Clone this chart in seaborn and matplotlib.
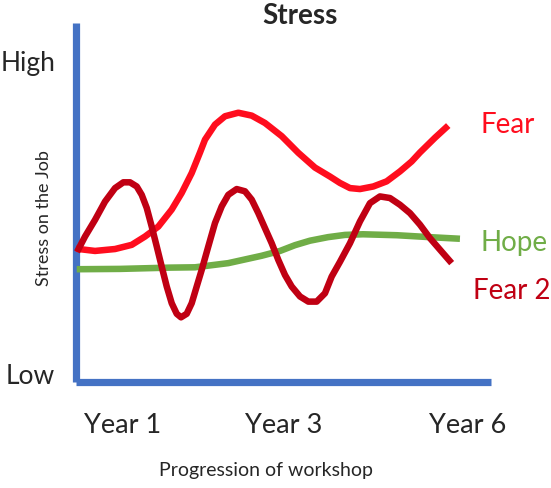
import pandas as pd
import numpy as np

import matplotlib
matplotlib.use("Agg")
import matplotlib.pyplot as plt
import seaborn as sns


# values: x = progress through the workshop (0-100), y = stress (0 = Low, 10 = High)
fear_x = [0, 4.58, 9.40, 13.42, 16.63, 19.83, 23.06, 25.47, 27.88, 29.88, 31.08, 33.49, 35.90,
          39.11, 42.34, 45.54, 49.57, 53.57, 57.59, 61.20, 63.61, 66.02, 68.43, 71.64, 74.87,
          78.07, 80.89, 82.89, 86.51, 89.71]
fear_y = [4.16, 4.09, 4.15, 4.28, 4.54, 4.85, 5.38, 5.90, 6.52, 7.16, 7.56, 8.03, 8.29,
          8.40, 8.31, 8.08, 7.67, 7.15, 6.69, 6.41, 6.21, 6.05, 6.02, 6.10, 6.26,
          6.57, 6.88, 7.16, 7.62, 8.00]

fear2_x = [0.24, 2.17, 4.58, 6.99, 9.40, 11.40, 13.01, 14.63, 15.83, 17.04, 18.24, 19.45, 20.65,
           21.86, 23.06, 24.27, 25.30, 26.67, 27.88, 29.08, 30.29, 31.88, 33.49, 35.11, 36.70,
           38.72, 40.72, 42.34, 43.93, 45.54, 47.16, 48.75, 50.36, 51.98, 53.98, 55.98, 58.00,
           60.00, 61.61, 63.61, 66.02, 68.43, 70.84, 73.25, 75.66, 78.07, 80.48, 82.89, 85.30,
           87.71, 90.53]
fear2_y = [4.06, 4.54, 5.06, 5.63, 6.05, 6.23, 6.23, 6.10, 5.84, 5.43, 4.85, 4.23, 3.60,
           2.98, 2.46, 2.13, 2.02, 2.13, 2.46, 2.98, 3.50, 4.23, 4.96, 5.48, 5.84,
           6.02, 5.95, 5.69, 5.27, 4.80, 4.33, 3.81, 3.34, 2.98, 2.67, 2.51, 2.51,
           2.77, 3.29, 3.75, 4.33, 5.01, 5.58, 5.79, 5.74, 5.53, 5.27, 4.91, 4.49,
           4.13, 3.71]

hope_x = [0.17, 10.60, 22.65, 28.67, 36.70, 44.75, 49.16, 52.77, 56.39, 60.72, 64.82, 69.16,
          77.35, 85.30, 92.53]
hope_y = [3.52, 3.53, 3.57, 3.58, 3.71, 3.94, 4.09, 4.27, 4.41, 4.52, 4.59, 4.61,
          4.58, 4.52, 4.47]

series_names = ["Hope", "Fear", "Fear 2"]
series_colors = {"Fear": "#FF0D1E", "Fear 2": "#C00013", "Hope": "#70AD47"}

year_pos = [11.1, 50.1, 94.5]
year_labels = ["Year 1", "Year 3", "Year 6"]
level_pos = [0.25, 10.0]
level_labels = ["Low", "High"]

# long table for seaborn
df = pd.concat([
    pd.DataFrame({"progress": hope_x, "stress": hope_y, "series": "Hope"}),
    pd.DataFrame({"progress": fear_x, "stress": fear_y, "series": "Fear"}),
    pd.DataFrame({"progress": fear2_x, "stress": fear2_y, "series": "Fear 2"}),
], ignore_index=True)

sns.set_style("white")
plt.rcParams["font.family"] = ["Lato", "DejaVu Sans"]

fig = plt.figure(figsize=(5.51, 4.88), dpi=100)
ax = fig.add_axes([0.138, 0.217, 0.753, 0.736])

sns.lineplot(data=df, x="progress", y="stress", hue="series", hue_order=series_names,
             palette=series_colors, sort=False, estimator=None, linewidth=4.7,
             legend=False, ax=ax, zorder=5, clip_on=False)
for line in ax.lines:
    line.set_solid_capstyle("butt")
    line.set_solid_joinstyle("round")

ax.set_xlim(0, 100)
ax.set_ylim(0, 11.2)

# only the blue left/bottom axis lines
for side in ["top", "right"]:
    ax.spines[side].set_visible(False)
for side in ["left", "bottom"]:
    ax.spines[side].set_color("#4472C4")
    ax.spines[side].set_linewidth(5.2)
    ax.spines[side].set_capstyle("butt")
    ax.spines[side].set_zorder(1)

ax.set_xticks(year_pos)
ax.set_xticklabels(year_labels, fontsize=19.5)
ax.set_yticks(level_pos)
ax.set_yticklabels(level_labels, fontsize=19)
ax.tick_params(axis="x", length=0, pad=22)
ax.tick_params(axis="y", length=0, pad=15)
ax.set_xlabel("")
ax.set_ylabel("")

# series names at the right end of the lines
ax.text(97.6, 8.03, "Fear", color=series_colors["Fear"], fontsize=20, va="center", clip_on=False)
ax.text(97.6, 4.34, "Hope", color=series_colors["Hope"], fontsize=20, va="center", clip_on=False)
ax.text(95.7, 2.84, "Fear 2", color=series_colors["Fear 2"], fontsize=20, va="center", clip_on=False)

ax.text(0.54, 1.02, "Stress", transform=ax.transAxes, fontsize=20, fontweight="bold",
        ha="center", va="center")
ax.text(-0.077, 0.457, "Stress on the Job", transform=ax.transAxes, fontsize=13,
        rotation=90, ha="center", va="center")
ax.text(0.458, -0.245, "Progression of workshop", transform=ax.transAxes, fontsize=14,
        ha="center", va="center")

fig.savefig("out.png", dpi=100)
